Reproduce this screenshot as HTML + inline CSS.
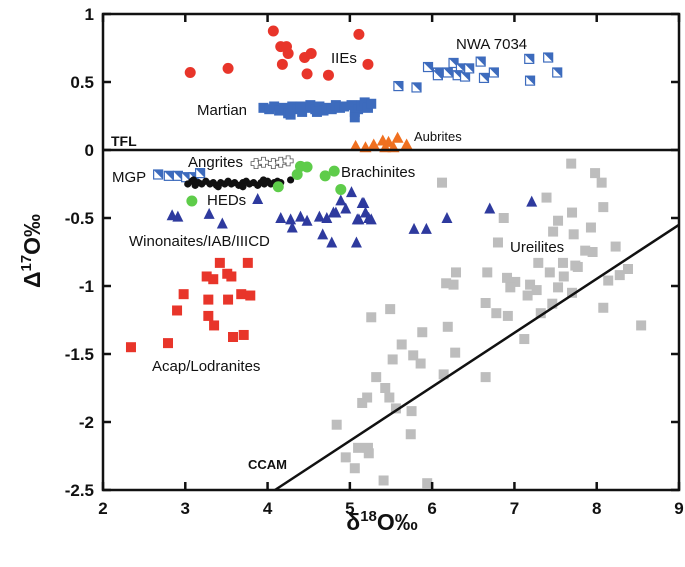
<!DOCTYPE html>
<html><head><meta charset="utf-8"><style>
body{margin:0;background:#fff}
svg text{font-family:"Liberation Sans",Arial,sans-serif}
</style></head><body>
<svg id="chart" width="685" height="562" viewBox="0 0 685 562" xmlns="http://www.w3.org/2000/svg"></svg>
<script>
const xTicks=[2,3,4,5,6,7,8,9];
const yTicks=[1,0.5,0,-0.5,-1,-1.5,-2,-2.5];
const yTickLabels=["1","0.5","0","-0.5","-1","-1.5","-2","-2.5"];
const iieX=[3.06,3.52,4.07,4.16,4.23,4.25,4.18,4.45,4.53,4.48,4.74,5.11,5.22];
const iieY=[0.57,0.60,0.875,0.76,0.76,0.71,0.63,0.68,0.71,0.56,0.55,0.85,0.63];
const marX=[3.95,4.02,4.08,4.14,4.2,4.25,4.3,4.36,4.42,4.47,4.52,4.58,4.63,4.68,4.73,4.78,4.83,4.88,4.93,5.02,5.06,5.1,5.14,5.18,5.22,5.26,5.06,4.28,4.4,4.6];
const marY=[0.31,0.30,0.32,0.29,0.31,0.27,0.32,0.30,0.28,0.31,0.33,0.30,0.32,0.29,0.31,0.30,0.33,0.31,0.32,0.33,0.28,0.30,0.33,0.35,0.31,0.34,0.24,0.26,0.32,0.28];
const nwaX=[5.59,5.81,5.95,6.07,6.19,6.26,6.35,6.31,6.40,6.45,6.59,6.63,6.75,7.18,7.41,7.52,7.19,6.07];
const nwaY=[0.47,0.46,0.61,0.57,0.57,0.64,0.60,0.55,0.54,0.60,0.65,0.53,0.57,0.67,0.68,0.57,0.51,0.55];
const aubX=[5.07,5.19,5.29,5.40,5.47,5.58,5.69,5.53,5.43];
const aubY=[0.03,0.02,0.04,0.07,0.06,0.09,0.04,0.02,0.02];
const angX=[3.86,3.95,4.07,4.16,4.25];
const angY=[-0.10,-0.09,-0.10,-0.09,-0.08];
const mgpX=[2.67,2.80,2.91,3.01,3.10,3.18];
const mgpY=[-0.18,-0.19,-0.19,-0.20,-0.20,-0.17];
const hedX=[3.03,3.08,3.12,3.16,3.2,3.25,3.3,3.34,3.38,3.43,3.48,3.52,3.56,3.6,3.65,3.7,3.74,3.78,3.83,3.88,3.92,3.96,4.0,4.04,4.08,4.12,4.16,4.28,3.1,3.4,3.7,3.95];
const hedY=[-0.25,-0.23,-0.26,-0.24,-0.25,-0.23,-0.25,-0.24,-0.26,-0.24,-0.25,-0.23,-0.25,-0.24,-0.26,-0.24,-0.23,-0.25,-0.24,-0.26,-0.24,-0.25,-0.23,-0.25,-0.24,-0.23,-0.24,-0.22,-0.22,-0.27,-0.27,-0.22];
const braX=[3.08,4.13,4.36,4.40,4.48,4.70,4.81,4.89];
const braY=[-0.375,-0.27,-0.18,-0.12,-0.125,-0.19,-0.155,-0.29];
const winX=[2.84,2.91,3.29,3.45,3.88,4.16,4.28,4.30,4.40,4.48,4.63,4.72,4.67,4.78,4.83,4.89,4.95,5.02,5.08,5.15,5.19,5.11,5.23,5.17,5.26,5.09,4.80,5.78,5.93,6.18,6.70,7.21];
const winY=[-0.48,-0.49,-0.47,-0.54,-0.36,-0.50,-0.51,-0.57,-0.49,-0.52,-0.49,-0.50,-0.62,-0.68,-0.46,-0.37,-0.43,-0.31,-0.68,-0.39,-0.46,-0.51,-0.50,-0.39,-0.51,-0.51,-0.46,-0.58,-0.58,-0.50,-0.43,-0.38];
const acaX=[2.34,2.79,2.90,2.98,3.28,3.28,3.35,3.26,3.34,3.42,3.51,3.56,3.52,3.68,3.79,3.76,3.58,3.71];
const acaY=[-1.45,-1.42,-1.18,-1.06,-1.10,-1.22,-1.29,-0.93,-0.95,-0.83,-0.91,-0.93,-1.10,-1.06,-1.07,-0.83,-1.375,-1.36];
const ureX=[7.69,7.98,8.06,6.12,7.39,8.08,7.70,6.87,7.53,7.47,7.93,7.72,6.80,8.23,7.86,7.95,7.29,7.59,7.74,7.77,6.67,6.29,6.17,6.26,6.91,7.01,6.95,7.19,7.27,7.16,7.43,7.60,7.53,7.70,8.14,8.28,8.38,6.65,6.78,6.92,7.32,7.46,8.08,8.54,7.12,6.19,5.88,6.28,5.26,5.49,5.63,5.77,5.86,5.52,5.32,6.14,6.65,5.43,5.48,5.21,5.15,5.56,5.75,4.84,5.74,5.10,5.22,5.23,4.95,5.06,5.41,5.94];
const ureY=[-0.10,-0.17,-0.24,-0.24,-0.35,-0.42,-0.46,-0.50,-0.52,-0.60,-0.57,-0.62,-0.68,-0.71,-0.74,-0.75,-0.83,-0.83,-0.85,-0.86,-0.90,-0.90,-0.98,-0.99,-0.94,-0.97,-1.01,-0.99,-1.03,-1.07,-0.90,-0.93,-1.01,-1.05,-0.96,-0.92,-0.875,-1.125,-1.20,-1.22,-1.20,-1.13,-1.16,-1.29,-1.39,-1.30,-1.34,-1.49,-1.23,-1.17,-1.43,-1.51,-1.57,-1.54,-1.67,-1.65,-1.67,-1.75,-1.82,-1.82,-1.86,-1.90,-1.92,-2.02,-2.09,-2.19,-2.19,-2.23,-2.26,-2.34,-2.43,-2.45];
const ccamX=[4.09,9];
const ccamY=[-2.5,-0.55];

const NS="http://www.w3.org/2000/svg";
const svg=document.getElementById('chart');
const X0=103,X1=679,Y0=14,Y1=490;
const sx=v=>X0+(v-2)/7*(X1-X0);
const sy=v=>Y0+(1-v)/3.5*(Y1-Y0);
function mk(tag,attrs,parent){const e=document.createElementNS(NS,tag);for(const k in attrs)e.setAttribute(k,attrs[k]);(parent||svg).appendChild(e);return e;}
function txt(s,x,y,size,weight,anchor,name){const t=mk('text',{x:x,y:y,'font-size':size,'font-weight':weight||'normal','text-anchor':anchor||'start',fill:'#111'});t.textContent=s;


return t;}

// series
function group(name){const g=mk('g',{});


return g;}
let g=group('ureilites-series');
ureX.forEach((v,i)=>{const r=mk('rect',{x:sx(v)-5,y:sy(ureY[i])-5,width:10,height:10,fill:'#bdbdbd'},g);

});
g=group('iie-series');
iieX.forEach((v,i)=>{const c=mk('circle',{cx:sx(v),cy:sy(iieY[i]),r:5.5,fill:'#e8352a'},g);

});
g=group('martian-series');
marX.forEach((v,i)=>{const r=mk('rect',{x:sx(v)-5,y:sy(marY[i])-5,width:10,height:10,fill:'#3d6bbd'},g);

});
function half(xs,ys,name,sz){const gg=group(name+'-series');xs.forEach((v,i)=>{const x=sx(v)-sz/2,y=sy(ys[i])-sz/2;
const s=mk('g',{},gg);


mk('rect',{x:x,y:y,width:sz,height:sz,fill:'#fff',stroke:'#3d6bbd','stroke-width':1.2},s);
mk('polygon',{points:`${x},${y} ${x+sz},${y} ${x+sz},${y+sz}`,fill:'#3d6bbd'},s);});}
half(nwaX,nwaY,'nwa7034',9);
half(mgpX,mgpY,'mgp',9);
g=group('aubrites-series');
aubX.forEach((v,i)=>{const x=sx(v),y=sy(aubY[i]);const p=mk('polygon',{points:`${x-6},${y+5} ${x+6},${y+5} ${x},${y-6}`,fill:'#f07020'},g);

});
g=group('winonaites-series');
winX.forEach((v,i)=>{const x=sx(v),y=sy(winY[i]);const p=mk('polygon',{points:`${x-5.5},${y+5} ${x+5.5},${y+5} ${x},${y-6}`,fill:'#2e3a9e'},g);

});
g=group('acap-lodranites-series');
acaX.forEach((v,i)=>{const r=mk('rect',{x:sx(v)-5,y:sy(acaY[i])-5,width:10,height:10,fill:'#e8352a'},g);

});
g=group('hed-series');
hedX.forEach((v,i)=>{const c=mk('circle',{cx:sx(v),cy:sy(hedY[i]),r:3.6,fill:'#111'},g);

});
g=group('brachinites-series');
braX.forEach((v,i)=>{const c=mk('circle',{cx:sx(v),cy:sy(braY[i]),r:5.5,fill:'#5ecc4a'},g);

});
g=group('angrites-series');
angX.forEach((v,i)=>{const x=sx(v),y=sy(angY[i]);const p=mk('path',{d:`M${x-2},${y-5}h4v3h3v4h-3v3h-4v-3h-3v-4h3z`,fill:'#fff',stroke:'#555','stroke-width':0.8},g);

});

// lines
let l=mk('line',{x1:X0,y1:sy(0),x2:X1,y2:sy(0),stroke:'#111','stroke-width':2.5});


l=mk('line',{x1:sx(ccamX[0]),y1:sy(ccamY[0]),x2:sx(ccamX[1]),y2:sy(ccamY[1]),stroke:'#111','stroke-width':2.5});



// frame and ticks
const fr=mk('rect',{x:X0,y:Y0,width:X1-X0,height:Y1-Y0,fill:'none',stroke:'#111','stroke-width':2.5});


xTicks.forEach(v=>{const x=sx(v);mk('line',{x1:x,y1:Y1,x2:x,y2:Y1-8,stroke:'#111','stroke-width':2.5});mk('line',{x1:x,y1:Y0,x2:x,y2:Y0+8,stroke:'#111','stroke-width':2.5});
txt(String(v),x,Y1+24,17,'bold','middle','x-tick-label');});
yTicks.forEach((v,i)=>{const y=sy(v);mk('line',{x1:X0,y1:y,x2:X0+8,y2:y,stroke:'#111','stroke-width':2.5});mk('line',{x1:X1,y1:y,x2:X1-8,y2:y,stroke:'#111','stroke-width':2.5});
txt(yTickLabels[i],94,y+6,17,'bold','end','y-tick-label');});

// axis titles
let t=mk('text',{x:382,y:530,'font-size':23,'font-weight':'bold','text-anchor':'middle',fill:'#111'});


t.innerHTML='δ<tspan dy="-9" font-size="15">18</tspan><tspan dy="9">O‰</tspan>';
t=mk('text',{x:0,y:0,'font-size':23,'font-weight':'bold','text-anchor':'middle',fill:'#111',transform:'translate(40,251) rotate(-90)'});


t.innerHTML='Δ<tspan dy="-9" font-size="15">17</tspan><tspan dy="9">O‰</tspan>';

// annotations
txt('IIEs',331,63,15,'normal','start','iie-label');
txt('NWA 7034',456,49,15,'normal','start','nwa7034-label');
txt('Martian',197,115,15,'normal','start','martian-label');
txt('TFL',111,146,14,'bold','start','tfl-label');
txt('Aubrites',414,141,13,'normal','start','aubrites-label');
txt('Angrites',188,167,15,'normal','start','angrites-label');
txt('MGP',112,182,15,'normal','start','mgp-label');
txt('Brachinites',341,177,15,'normal','start','brachinites-label');
txt('HEDs',207,205,15,'normal','start','heds-label');
txt('Winonaites/IAB/IIICD',129,246,15,'normal','start','winonaites-label');
txt('Ureilites',510,252,15,'normal','start','ureilites-label');
txt('Acap/Lodranites',152,371,15,'normal','start','acap-label');
txt('CCAM',248,469,13,'bold','start','ccam-label');
</script>
</body></html>
